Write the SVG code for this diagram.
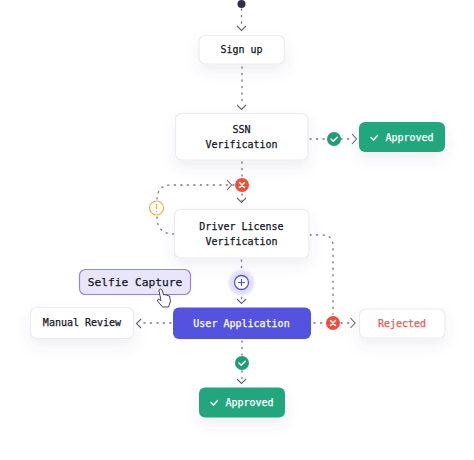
<svg xmlns="http://www.w3.org/2000/svg" width="474" height="460" viewBox="0 0 474 460">
<style>
text{font-family:"DejaVu Sans Mono","Liberation Mono",monospace;font-size:10px;text-anchor:middle;fill:#15151f;stroke:#15151f;stroke-width:.25}
.lt{fill:#fff;stroke:#fff}
.box{fill:#fff;stroke:#ebebf1;stroke-width:1.200;filter:url(#s)}
.c{fill:none;stroke:#74747f;stroke-width:1.300;stroke-dasharray:1.200 5.300;stroke-linecap:round}
.a{fill:none;stroke:#66666f;stroke-width:1.100}
.w{fill:none;stroke:#fff;stroke-width:1.500;stroke-linecap:round;stroke-linejoin:round}
</style>
<defs>
<filter id="s" x="-30%" y="-50%" width="160%" height="220%"><feDropShadow dx="0" dy="7" stdDeviation="7" flood-color="#4a4a70" flood-opacity=".09"/></filter>
<radialGradient id="h"><stop offset=".5" stop-color="#dcd9f8"/><stop offset=".8" stop-color="#e9e7fb"/><stop offset="1" stop-color="#f4f3fd" stop-opacity="0"/></radialGradient>
</defs>
<g id="connectors">
<path class="c" d="M241.500 9V27M242 67V106M242 162V176M242 194V201M310 139H327M341 139H351"/>
<path class="c" d="M234 185H170Q158 185 157 199M157 217Q157 234 174 234M310 235H322Q333 235 333 246V314M314 323H325M341 323H351"/>
<path class="c" d="M241.500 260V274M241.500 291V301M242 341V355M242 371V379M171 323H144"/>
<path class="a" d="M237 26l4.500 4.500 4.500-4.500M237 105l4.500 4.500 4.500-4.500M237 198l4.500 4.500 4.500-4.500M237 299l4.500 4.500 4.500-4.500M237 379l4.500 4.500 4.500-4.500M352 134l4.500 5-4.500 5M227 180l4.500 5-4.500 5M350.500 318l4.500 5-4.500 5M141 319l-4.500 4.500 4.500 4.500"/>
</g>
<g id="start"><circle cx="241.500" cy="4" r="4" fill="#2f2f4b"/></g>
<g id="sign-up"><rect class="box" x="199" y="35.500" width="85.500" height="28.500" rx="6"/><text x="241.500" y="53">Sign up</text></g>
<g id="ssn"><rect class="box" x="175.500" y="113.500" width="132.500" height="46.500" rx="6"/><text x="241.500" y="133">SSN</text><text x="241.500" y="148">Verification</text></g>
<g id="approved-1"><rect x="359" y="122" width="86" height="30" rx="6" fill="#22a67d" filter="url(#s)"/><path class="w" d="M371 137.500l2.500 2.500 4-4.500"/><text class="lt" x="409.500" y="140.500">Approved</text></g>
<g id="check-1"><circle cx="334" cy="139" r="7" fill="#1f9d78"/><path class="w" d="M331 139l2.200 2.200 4-4"/></g>
<g id="reject-1"><circle cx="242" cy="185" r="7" fill="#f14d3a"/><path class="w" d="M239.500 182.500l5 5M244.500 182.500l-5 5"/></g>
<g id="warning"><circle cx="156.500" cy="208" r="7" fill="#fff" stroke="#eeb03f" stroke-width="1.200"/><path d="M156.500 204v5M156.500 211v1" fill="none" stroke="#eeb03f" stroke-width="1.300"/></g>
<g id="driver-license"><rect class="box" x="174.500" y="209.500" width="134.500" height="48.500" rx="6"/><text x="241.500" y="230">Driver License</text><text x="241.500" y="245">Verification</text></g>
<g id="add"><circle cx="241.500" cy="282.500" r="15" fill="url(#h)"/><circle cx="241.500" cy="282.500" r="7" fill="#fff" stroke="#5252dd" stroke-width="1.300"/><path d="M241.500 279v7M238 282.500h7" fill="none" stroke="#5252dd" stroke-width="1.200"/></g>
<g id="selfie"><rect x="79.500" y="269.500" width="111" height="25" rx="6" fill="#e9e6fb" stroke="#8f86dd" stroke-width="1.200"/><text x="135" y="286" style="font-size:11.200px">Selfie Capture</text></g>
<g id="cursor"><path d="M160.500 298l-1.500-7q0-2 1.500-2t2 2l1 4 1-.5 5 1.500 1 5-2 6h-6l-5-6q-.5-3 3.500-.5z" fill="#fff" stroke="#33333f" stroke-width=".9" stroke-linejoin="round"/></g>
<g id="manual"><rect class="box" x="30.500" y="307.500" width="103" height="31" rx="6"/><text x="82" y="326">Manual Review</text></g>
<g id="user-app"><rect x="173" y="307.500" width="138" height="31.500" rx="6" fill="#5353e0"/><text class="lt" x="241.500" y="326.500">User Application</text></g>
<g id="reject-2"><circle cx="333" cy="323" r="7" fill="#f14d3a"/><path class="w" d="M330.500 320.500l5 5M335.500 320.500l-5 5"/></g>
<g id="rejected"><rect class="box" x="359.500" y="309" width="85.500" height="29" rx="6"/><text x="402" y="326.500" style="fill:#f0584a;stroke:#f0584a">Rejected</text></g>
<g id="check-2"><circle cx="242" cy="363" r="7" fill="#1f9d78"/><path class="w" d="M239 363l2.200 2.200 4-4"/></g>
<g id="approved-2"><rect x="199" y="387.500" width="86" height="30" rx="6" fill="#22a67d" filter="url(#s)"/><path class="w" d="M211 402.500l2.500 2.500 4-4.500"/><text class="lt" x="249.500" y="406">Approved</text></g>
</svg>
